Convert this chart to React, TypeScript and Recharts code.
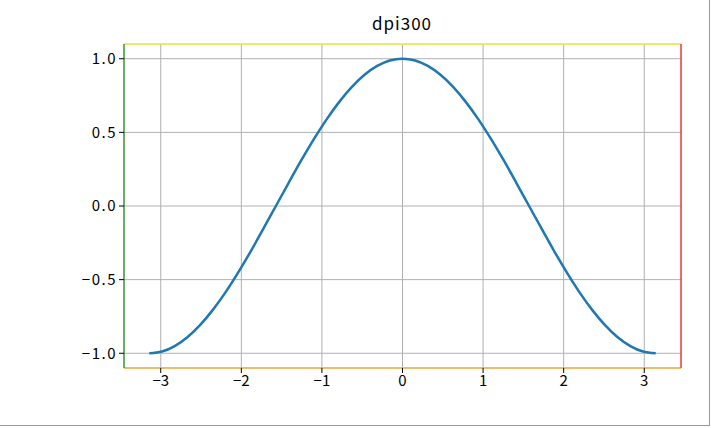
import React from "react";
import { LineChart, Line, XAxis, YAxis, CartesianGrid, ReferenceLine } from "recharts";

const xValues = [
  -3.142, -2.985, -2.827, -2.670, -2.513, -2.356, -2.199, -2.042, -1.885, -1.728, -1.571,
  -1.414, -1.257, -1.100, -0.942, -0.785, -0.628, -0.471, -0.314, -0.157, 0,
  0.157, 0.314, 0.471, 0.628, 0.785, 0.942, 1.100, 1.257, 1.414, 1.571,
  1.728, 1.885, 2.042, 2.199, 2.356, 2.513, 2.670, 2.827, 2.985, 3.142,
];
const yValues = [
  -1, -0.988, -0.951, -0.891, -0.809, -0.707, -0.588, -0.454, -0.309, -0.156, 0,
  0.156, 0.309, 0.454, 0.588, 0.707, 0.809, 0.891, 0.951, 0.988, 1,
  0.988, 0.951, 0.891, 0.809, 0.707, 0.588, 0.454, 0.309, 0.156, 0,
  -0.156, -0.309, -0.454, -0.588, -0.707, -0.809, -0.891, -0.951, -0.988, -1,
];
const xTicks = [-3, -2, -1, 0, 1, 2, 3];
const yTicks = [-1, -0.5, 0, 0.5, 1];
const title = "dpi300";

const data = xValues.map((x, i) => ({ x, y: yValues[i] }));
const X_MIN = -3.456;
const X_MAX = 3.456;
const Y_MIN = -1.1;
const Y_MAX = 1.1;

const FONT = "'Noto Sans CJK SC', sans-serif";

const fmtY = (v: number) => (v < 0 ? "\u2212" : "") + Math.abs(v).toFixed(1);
const fmtX = (v: number) => (v < 0 ? "\u2212" : "") + Math.abs(v).toString();

export default function App() {
  return (
    <div style={{ position: "absolute", left: 0, top: 0, width: 722, height: 428, background: "#fff" }}>
      <div
        style={{
          position: "absolute",
          left: 0,
          top: 0,
          width: 709,
          height: 425,
          borderRight: "1px solid #66bb6a",
          borderBottom: "1px solid #66bb6a",
        }}
      />
      <div
        style={{
          position: "absolute",
          left: 302,
          width: 200,
          top: 10,
          textAlign: "center",
          fontFamily: FONT,
          fontSize: 17,
          letterSpacing: 1,
          color: "#000",
        }}
      >
        {title}
      </div>
      <div style={{ position: "absolute", left: 0, top: 0 }}>
        <LineChart
          width={722}
          height={428}
          data={data}
          margin={{ top: 44, left: 64, right: 41, bottom: 30 }}
        >
          <CartesianGrid stroke="#b0b0b0" strokeWidth={1} />
          <XAxis
            dataKey="x"
            type="number"
            domain={[X_MIN, X_MAX]}
            ticks={xTicks}
            allowDataOverflow
            height={30}
            tickFormatter={fmtX}
            axisLine={{ stroke: "orange", strokeWidth: 1 }}
            tickLine={{ stroke: "#000" }}
            tickSize={5}
            tick={{ fill: "#000", fontSize: 15, fontFamily: FONT }}
            interval={0}
          />
          <YAxis
            type="number"
            domain={[Y_MIN, Y_MAX]}
            ticks={yTicks}
            allowDataOverflow
            width={60}
            tickFormatter={fmtY}
            axisLine={{ stroke: "green", strokeWidth: 1 }}
            tickLine={{ stroke: "#000" }}
            tickSize={5}
            tick={{ fill: "#000", fontSize: 15, fontFamily: FONT, letterSpacing: 1.5 }}
            interval={0}
          />
          <ReferenceLine y={Y_MAX} stroke="yellow" strokeWidth={1} />
          <ReferenceLine x={X_MAX} stroke="red" strokeWidth={1} />
          <Line
            type="monotone"
            dataKey="y"
            stroke="#1f77b4"
            strokeWidth={2.5}
            dot={false}
            isAnimationActive={false}
          />
        </LineChart>
      </div>
    </div>
  );
}
